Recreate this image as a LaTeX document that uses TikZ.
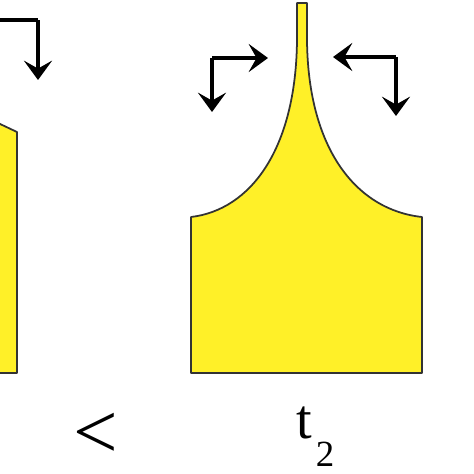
\documentclass[tikz,border=0pt]{standalone}
\usepackage{fontspec}
\setmainfont{Liberation Serif}
\usetikzlibrary{arrows.meta}
\definecolor{melt}{RGB}{255,240,40}
\begin{document}
\begin{tikzpicture}[x=0.02cm, y=-0.02cm, thick]
  % Define styles
  \tikzstyle{crystal} = [fill=melt, draw=black!80, line width=1pt, line join=round]
  \tikzstyle{arrow} = [line width=2pt, -{Stealth[length=11pt, width=16pt, inset=4.5pt]}]
  \useasboundingbox (0,0) rectangle (474,474);
  \clip (0,0) rectangle (474,474);

  % Left crystal (cut by the frame)
  \draw[crystal] (-40,105) -- (17,132) -- (17,373) -- (-40,373) -- cycle;

  % Right crystal with spike
  \draw[crystal] (191,373) -- (191,217)
    .. controls (250,210) and (296,150) .. (297,40) -- (297,3) -- (307,3) -- (307,40)
    .. controls (308,150) and (357,210) .. (422,217) -- (422,373) -- cycle;

  % Arrow corners and tips
  \coordinate (ac) at (38,20);
  \coordinate (al) at (-40,20);
  \coordinate (ad) at (38,80);
  \coordinate (bc) at (212,58);
  \coordinate (br) at (268,58);
  \coordinate (bd) at (212,112);
  \coordinate (cc) at (396,57);
  \coordinate (cl) at (333,57);
  \coordinate (cd) at (396,116);

  % Arrows
  \draw[arrow] (ac) -- (al);
  \draw[arrow] (ac) -- (ad);
  \draw[arrow] (bc) -- (br);
  \draw[arrow] (bc) -- (bd);
  \draw[arrow] (cc) -- (cl);
  \draw[arrow] (cc) -- (cd);

  % Labels
  \node[inner sep=0] (less) at (96,436) {\fontsize{45}{45}\selectfont <};
  \node[anchor=base west, inner sep=0] (t2) at (296,438)
    {\fontsize{32}{32}\selectfont t\hspace{2pt}\raisebox{-16pt}{\fontsize{21}{21}\selectfont 2}};
\end{tikzpicture}
\end{document}
